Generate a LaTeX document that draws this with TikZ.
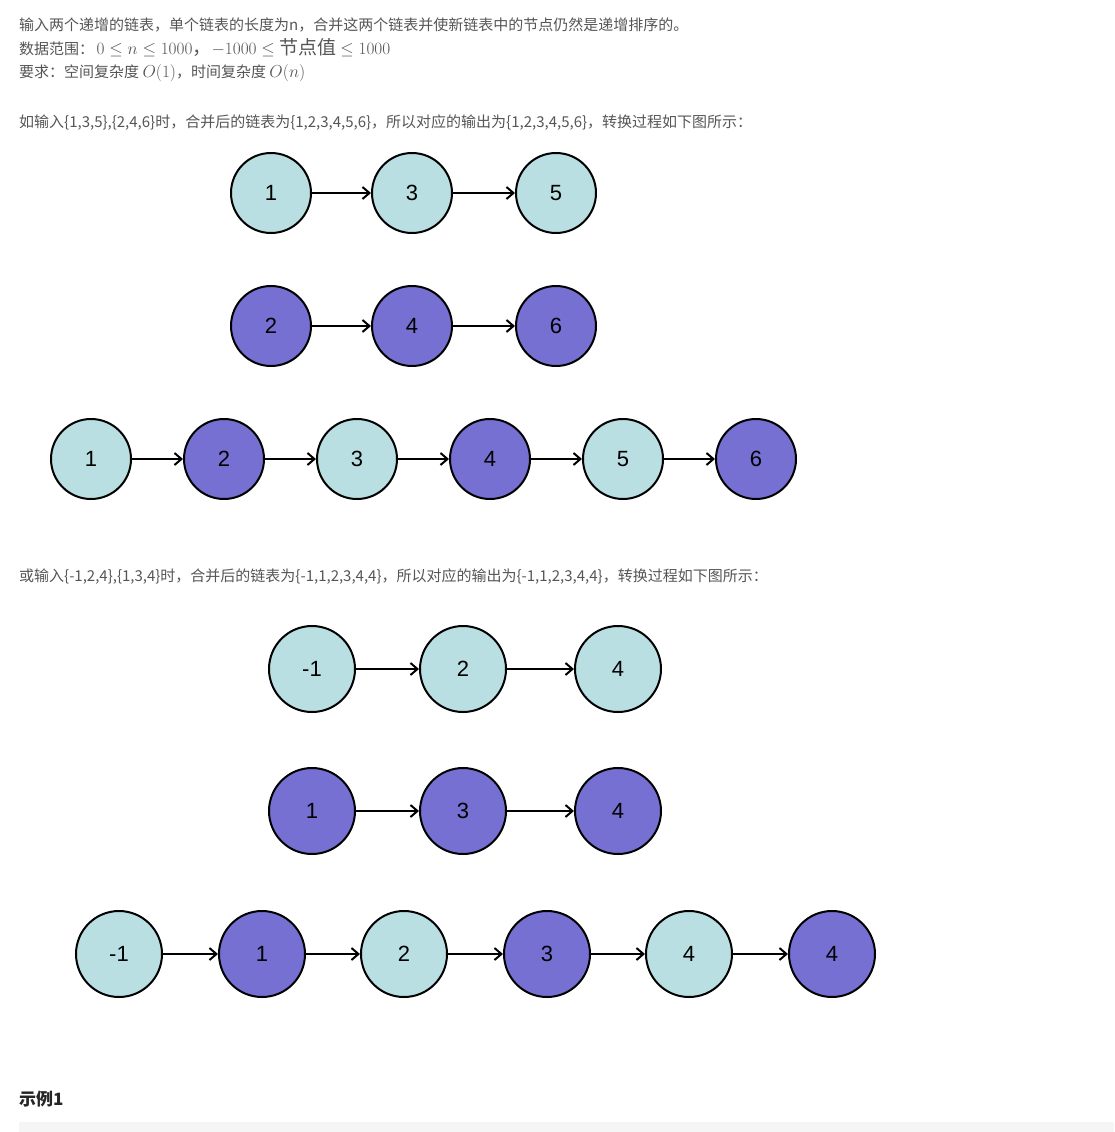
\documentclass[tikz,border=0pt]{standalone}
\usepackage{fontspec}
\setmainfont{Liberation Sans}
\newfontfamily\cjk{Noto Sans CJK SC}
\usetikzlibrary{arrows.meta}
\definecolor{cyanfill}{HTML}{B9DFE2}
\definecolor{purplefill}{HTML}{7570D2}
\definecolor{textgray}{HTML}{555555}
\tikzset{
	lnode/.style = {circle, draw, line width=2pt, minimum size=80pt, inner sep=0pt, font=\fontsize{22}{24}\selectfont},
	bnode/.style = {lnode, minimum size=86pt},
	cnode/.style = {fill=cyanfill},
	pnode/.style = {fill=purplefill},
	link/.style = {-{Straight Barb[length=7pt,width=12pt]}, line width=2pt},
	line/.style = {anchor=west, text=textgray, inner sep=0pt, font=\cjk\fontsize{15}{18}\selectfont}
}
\begin{document}
\begin{tikzpicture}[x=1pt, y=-1pt]
	\useasboundingbox (0,0) rectangle (1114,1132);

	\node (t1)[line] at (19,25) {输入两个递增的链表，单个链表的长度为n，合并这两个链表并使新链表中的节点仍然是递增排序的。};
	\node (t2)[line] at (19,48) {数据范围：\,\fontsize{19}{20}\selectfont$0\le n\le 1000$，$-1000\le$ 节点值 $\le 1000$};
	\node (t3)[line] at (19,73) {要求：空间复杂度 {\fontsize{19}{20}\selectfont$O(1)$}，时间复杂度 {\fontsize{19}{20}\selectfont$O(n)$}};
	\node (t4)[line] at (19,123) {如输入\{1,3,5\},\{2,4,6\}时，合并后的链表为\{1,2,3,4,5,6\}，所以对应的输出为\{1,2,3,4,5,6\}，转换过程如下图所示：};
	\node (t5)[line] at (19,577) {或输入\{-1,2,4\},\{1,3,4\}时，合并后的链表为\{-1,1,2,3,4,4\}，所以对应的输出为\{-1,1,2,3,4,4\}，转换过程如下图所示：};
	\node (t6)[line, text=black!85, font=\cjk\bfseries\fontsize{17}{20}\selectfont] at (19,1099) {示例1};
	\fill[black!4] (19,1122) rectangle (1114,1132);

	% first example
	\node (a1)[lnode, cnode] at (271,193) {1};
	\node (a2)[lnode, cnode] at (412,193) {3};
	\node (a3)[lnode, cnode] at (556,193) {5};
	\node (b1)[lnode, pnode] at (271,326) {2};
	\node (b2)[lnode, pnode] at (412,326) {4};
	\node (b3)[lnode, pnode] at (556,326) {6};
	\node (c1)[lnode, cnode] at (91,459) {1};
	\node (c2)[lnode, pnode] at (224,459) {2};
	\node (c3)[lnode, cnode] at (357,459) {3};
	\node (c4)[lnode, pnode] at (490,459) {4};
	\node (c5)[lnode, cnode] at (623,459) {5};
	\node (c6)[lnode, pnode] at (756,459) {6};

	% second example
	\node (d1)[bnode, cnode] at (312,669) {-1};
	\node (d2)[bnode, cnode] at (463,669) {2};
	\node (d3)[bnode, cnode] at (618,669) {4};
	\node (e1)[bnode, pnode] at (312,811) {1};
	\node (e2)[bnode, pnode] at (463,811) {3};
	\node (e3)[bnode, pnode] at (618,811) {4};
	\node (f1)[bnode, cnode] at (119,954) {-1};
	\node (f2)[bnode, pnode] at (262,954) {1};
	\node (f3)[bnode, cnode] at (404,954) {2};
	\node (f4)[bnode, pnode] at (547,954) {3};
	\node (f5)[bnode, cnode] at (689,954) {4};
	\node (f6)[bnode, pnode] at (832,954) {4};

	\foreach \r in {a,b,d,e}{
		\draw [link](\r1)--(\r2);
		\draw [link](\r2)--(\r3);
	}
	\foreach \r in {c,f}{
		\foreach \i [evaluate=\i as \j using int(\i+1)] in {1,...,5}
			\draw [link](\r\i)--(\r\j);
	}
\end{tikzpicture}
\end{document}
